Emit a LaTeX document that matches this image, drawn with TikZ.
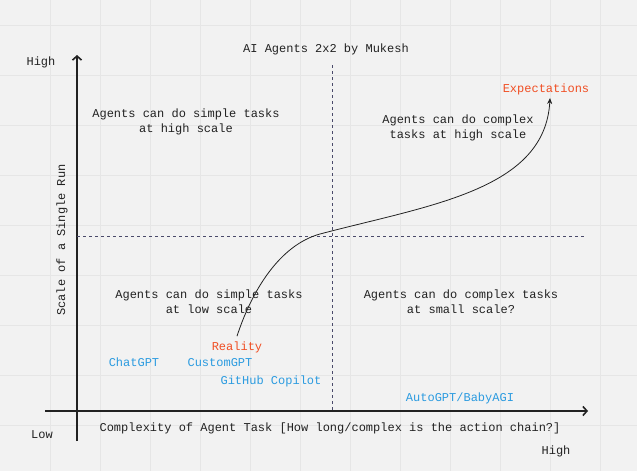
\documentclass[tikz,border=0pt]{standalone}
\usepackage{fontspec}
\setmainfont{Liberation Mono}
\usetikzlibrary{arrows.meta}
\definecolor{bg}{HTML}{F2F2F2}
\definecolor{gridc}{HTML}{E6E6E6}
\definecolor{tx}{HTML}{222222}
\definecolor{blu}{HTML}{2B9BE0}
\definecolor{redc}{HTML}{F04E23}
\definecolor{dash}{HTML}{4A4A6A}
\begin{document}
\begin{tikzpicture}[x=1pt,y=-1pt,
  lbl/.style={font=\fontsize{12}{15}\selectfont,text=tx,align=center,inner sep=0},
  bl/.style={lbl,text=blu},
  rd/.style={lbl,text=redc},
  axis/.style={line width=1.6pt,draw=tx,-{Straight Barb[length=4pt,width=9pt]}},
  dl/.style={dashed,draw=dash,line width=0.7pt}]
\fill[bg] (0,0) rectangle (637,471);
\useasboundingbox (0,0) rectangle (637,471);
\foreach \x in {50,100,...,600} \draw[gridc,line width=0.6pt] (\x,0) -- (\x,471);
\foreach \y in {25,75,...,475} \draw[gridc,line width=0.6pt] (0,\y) -- (637,\y);
\coordinate (yb) at (77,441); \coordinate (yt) at (77,55);
\coordinate (xl) at (45,411); \coordinate (xr) at (588,411);
\draw[axis] (yb) -- (yt);
\draw[axis] (xl) -- (xr);
\coordinate (vt) at (332,65); \coordinate (vb) at (332,410);
\coordinate (hl) at (77,236); \coordinate (hr) at (586,236);
\draw[dl] (vt) -- (vb);
\draw[dl] (hl) -- (hr);
\node[lbl] (title) at (326,49) {AI Agents 2x2 by Mukesh};
\node[lbl] (yhigh) at (41,62) {High};
\node[lbl] (ylow) at (42,435) {Low};
\node[lbl] (xhigh) at (556,451) {High};
\node[lbl,rotate=90] (ylab) at (62,240) {Scale of a Single Run};
\node[lbl] (xlab) at (330,428) {Complexity of Agent Task [How long/complex is the action chain?]};
\node[lbl] (q1) at (186,122) {Agents can do simple tasks\\at high scale};
\node[lbl] (q2) at (458,128) {Agents can do complex\\tasks at high scale};
\node[lbl] (q3) at (209,302) {Agents can do simple tasks\\at low scale};
\node[lbl] (q4) at (461,302) {Agents can do complex tasks\\at small scale?};
\node[rd] (exp) at (546,89) {Expectations};
\node[rd] (real) at (237,347) {Reality};
\node[bl] (chat) at (134,362) {ChatGPT};
\node[bl] (cust) at (220,363) {CustomGPT};
\node[bl] (gh) at (271,381) {GitHub Copilot};
\node[bl] (auto) at (460,398) {AutoGPT/BabyAGI};
\draw[tx,line width=0.8pt,-{Stealth[length=6pt,width=5pt]}] (real.north) ++(0,-5)
  .. controls (252,290) and (280,245) .. (320,234)
  .. controls (430,205) and (545,190) .. (550,98);
\end{tikzpicture}
\end{document}
